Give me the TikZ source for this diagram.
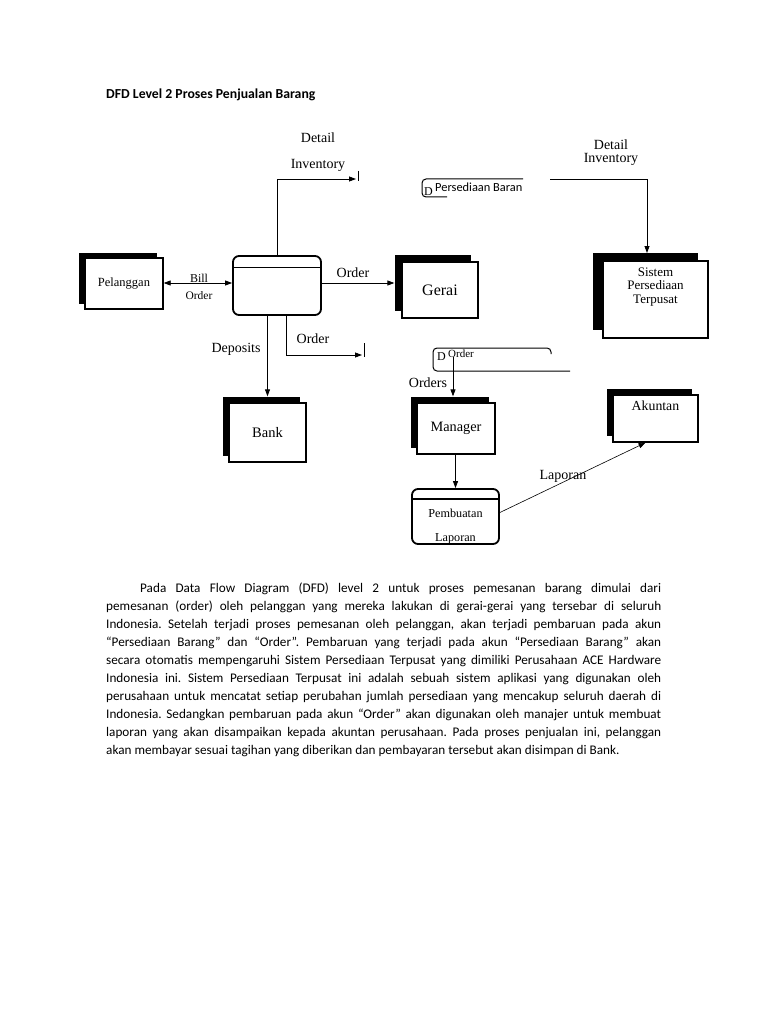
\documentclass[tikz,border=0pt]{standalone}
\usepackage{fontspec}
\setmainfont{Liberation Serif}
\newfontfamily\calibri{Carlito}
\usetikzlibrary{arrows.meta,shadows,calc}

\begin{document}
\begin{tikzpicture}[x=1pt,y=-1pt,
    entity/.style={draw, fill=white, line width=1.3pt, inner sep=0pt},
    blockshadow/.style 2 args={drop shadow={shadow xshift=#1, shadow yshift=#2, fill=black, opacity=1}},
    process/.style={draw, rounded corners=6pt, line width=1.8pt, inner sep=0pt},
    flow/.style={line width=0.8pt, -{Triangle[length=7pt,width=5pt]}},
    lbl/.style={font=\fontsize{14}{16}\selectfont, inner sep=0pt},
    small/.style={font=\fontsize{11.5}{13}\selectfont, inner sep=0pt}]

    \fill[white] (0,0) rectangle (768,1024);
    \useasboundingbox (0,0) rectangle (768,1024);

    % title
    \node[anchor=base west, inner sep=0pt, font=\calibri\bfseries\fontsize{13.75}{16}\selectfont]
        (title) at (106,99) {DFD Level 2 Proses Penjualan Barang};

    % entities
    \node[entity, blockshadow={-6pt}{5pt}, minimum width=78pt, minimum height=51pt,
        font=\fontsize{12.5}{14}\selectfont] (pel) at (124,283.5) {Pelanggan};
    \node[entity, blockshadow={-7pt}{7pt}, minimum width=76pt, minimum height=56pt,
        font=\fontsize{16}{18}\selectfont] (gerai) at (440,290) {Gerai};
    \node[entity, blockshadow={-10pt}{8pt}, minimum width=105pt, minimum height=77pt,
        label={[anchor=north, yshift=-7pt, align=center, inner sep=0pt,
          font=\fontsize{13}{13.5}\selectfont]north:Sistem\\Persediaan\\Terpusat}] (sis) at (655.5,299.5) {};
    \node[entity, blockshadow={-6pt}{6pt}, minimum width=77pt, minimum height=59pt,
        font=\fontsize{14.5}{16}\selectfont] (bank) at (267.5,432.5) {Bank};
    \node[entity, blockshadow={-6pt}{6pt}, minimum width=78pt, minimum height=51pt,
        font=\fontsize{14.3}{16}\selectfont] (mgr) at (456,428.5) {Manager};
    \node[entity, blockshadow={-6pt}{6pt}, minimum width=85pt, minimum height=47pt,
        label={[anchor=north, yshift=-6pt, inner sep=0pt,
          font=\fontsize{13.8}{15}\selectfont]north:Akuntan}] (aku) at (655.5,418.5) {};

    % processes
    \node[process, minimum width=88pt, minimum height=59pt] (proc) at (277,285.5) {};
    \draw[line width=1.5pt] ($(proc.north west)+(0,12.5)$) -- ($(proc.north east)+(0,12.5)$);
    \node[process, minimum width=87pt, minimum height=55pt,
        label={[yshift=-9.75pt, align=center, inner sep=0pt,
          font=\fontsize{12.2}{24}\selectfont]center:Pembuatan\\Laporan}] (pemb) at (455.5,516.5) {};
    \draw[line width=1.5pt] ($(pemb.north west)+(0,11)$) -- ($(pemb.north east)+(0,11)$);

    % data stores
    \draw[line width=1pt, rounded corners=4pt] (523,179) -- (422,179) |- (447,197);
    \node[anchor=base west, inner sep=0pt, font=\fontsize{12}{13}\selectfont] (pbD) at (424,196) {D};
    \node[anchor=base west, inner sep=0pt, font=\calibri\fontsize{12.4}{14}\selectfont]
        (pb) at (435,192) {Persediaan Baran};
    \draw[line width=1pt, rounded corners=4pt] (551,354) |- (433,348) |- (570,371);
    \node[anchor=base west, inner sep=0pt, font=\fontsize{12}{13}\selectfont] (ordD) at (437,360) {D};
    \node[anchor=base west, small, font=\fontsize{11}{12}\selectfont] (ord) at (448,357.5) {Order};

    % flows
    \coordinate (diEnd) at (356,179);
    \draw[flow] (proc.north) |- (diEnd);
    \draw[line width=0.8pt] (358,171) -- (358,181);
    \node[lbl] (di1) at (318,138) {Detail};
    \node[lbl] (di2) at (318,165) {Inventory};

    \coordinate (pbOut) at (550,179);
    \coordinate (sisIn) at (647,253);
    \draw[flow] (pbOut) -| (sisIn);
    \node[lbl] (di3) at (611,145) {Detail};
    \node[lbl] (di4) at (611,159) {Inventory};

    \draw[line width=0.8pt, {Triangle[length=7pt,width=5pt]}-{Triangle[length=7pt,width=5pt]}]
        (pel.east |- 0,283) -- (proc.west |- 0,283);
    \node[small, font=\fontsize{12}{13}\selectfont] (bill) at (199,278) {Bill};
    \node[small] (ord1) at (199,296) {Order};

    \draw[flow, shorten >=7pt] (proc.east |- 0,283) -- (gerai.west |- 0,283);
    \node[lbl] (ord2) at (353,273) {Order};

    \draw[flow, shorten >=6pt] (proc.south -| bank.north) -- (bank.north);
    \node[lbl] (dep) at (236,349) {Deposits};

    \coordinate (ordOut) at ($(proc.south)+(9,0)$);
    \coordinate (ordEnd) at (362,355);
    \draw[flow] (ordOut) |- (ordEnd);
    \draw[line width=0.8pt] (364,343) -- (364,357);
    \node[lbl] (ord3) at (313,339) {Order};

    \coordinate (ordTap) at (453,357);
    \draw[flow, shorten >=6pt] (ordTap) -- (ordTap |- mgr.north);
    \node[lbl] (ords) at (428,383) {Orders};

    \draw[flow] (pemb.north |- mgr.south) -- (pemb.north);

    \draw[flow, line width=0.6pt] ($(pemb.east)+(0,-4)$) -- ($(aku.south)+(-10,0)$);
    \node[lbl] (lap) at (563,476) {Laporan};

    % body text
    \node[anchor=north west, inner sep=0pt, text width=555pt, align=justify,
        font=\calibri\fontsize{13.2}{18}\selectfont\frenchspacing] (body) at (106,579.4) {%
      \strut\hspace*{34pt}Pada Data Flow Diagram (DFD) level 2 untuk proses pemesanan barang dimulai dari\linebreak
      pemesanan (order) oleh pelanggan yang mereka lakukan di gerai-gerai yang tersebar di seluruh\linebreak
      Indonesia. Setelah terjadi proses pemesanan oleh pelanggan, akan terjadi pembaruan pada akun\linebreak
      “Persediaan Barang” dan “Order”. Pembaruan yang terjadi pada akun “Persediaan Barang” akan\linebreak
      secara otomatis mempengaruhi Sistem Persediaan Terpusat yang dimiliki Perusahaan ACE Hardware\linebreak
      Indonesia ini. Sistem Persediaan Terpusat ini adalah sebuah sistem aplikasi yang digunakan oleh\linebreak
      perusahaan untuk mencatat setiap perubahan jumlah persediaan yang mencakup seluruh daerah di\linebreak
      Indonesia. Sedangkan pembaruan pada akun “Order” akan digunakan oleh manajer untuk membuat\linebreak
      laporan yang akan disampaikan kepada akuntan perusahaan. Pada proses penjualan ini, pelanggan\linebreak
      akan membayar sesuai tagihan yang diberikan dan pembayaran tersebut akan disimpan di Bank.};
\end{tikzpicture}
\end{document}
